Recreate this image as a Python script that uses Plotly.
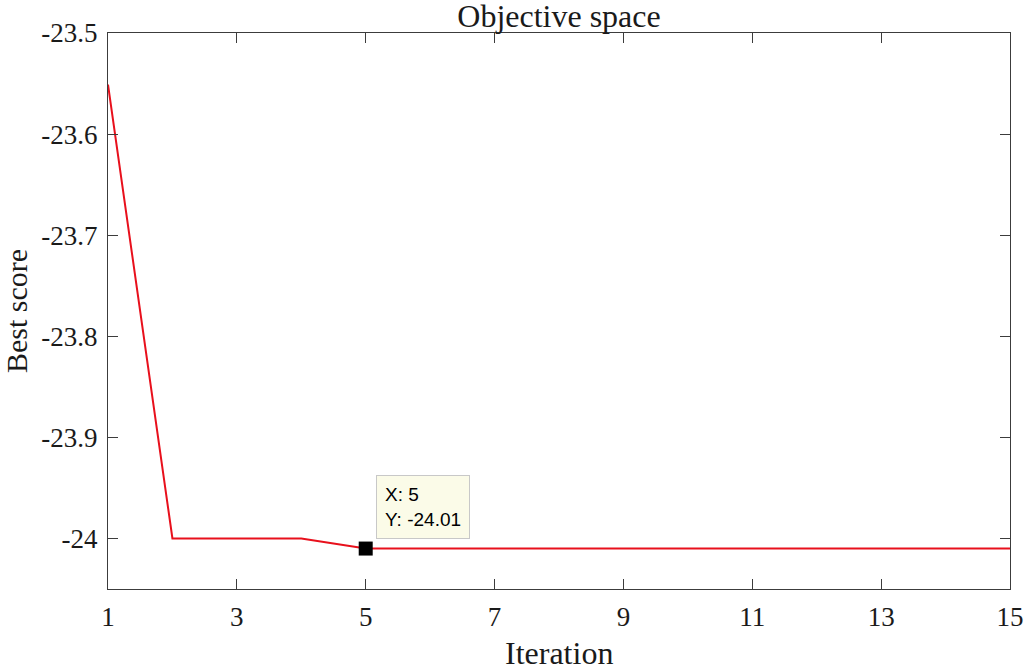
import plotly.graph_objects as go

# best score per iteration
iterations = list(range(1, 16))
best_score = [-23.551, -24.0, -24.0, -24.0, -24.01, -24.01, -24.01, -24.01,
              -24.01, -24.01, -24.01, -24.01, -24.01, -24.01, -24.01]

x_ticks = [1, 3, 5, 7, 9, 11, 13, 15]
y_ticks = [-24.0, -23.9, -23.8, -23.7, -23.6, -23.5]
y_labels = ['-24', '-23.9', '-23.8', '-23.7', '-23.6', '-23.5']

tip_x = 5
tip_y = -24.01

serif = 'Liberation Serif, Times New Roman, serif'
axis_col = '#3c3c3c'
text_col = '#1a1a1a'

fig = go.Figure()
fig.add_trace(go.Scatter(x=iterations, y=best_score, mode='lines',
                         line=dict(color='#e8101c', width=2), showlegend=False))
fig.add_trace(go.Scatter(x=[tip_x], y=[tip_y], mode='markers',
                         marker=dict(color='black', symbol='square', size=14),
                         showlegend=False))

# datatip box like matlab
fig.add_annotation(x=tip_x, y=tip_y, text='X: 5<br>Y: -24.01',
                   showarrow=False, xanchor='left', yanchor='bottom',
                   xshift=10, yshift=10, align='left',
                   font=dict(family='Liberation Sans, Arial', size=19, color='black'),
                   bgcolor='#fbfbe8', bordercolor='#c8c8c8', borderwidth=1, borderpad=8)

# x axis title as an annotation so it can sit right at the bottom edge
fig.add_annotation(x=0.5, y=0, xref='paper', yref='paper', text='Iteration',
                   showarrow=False, xanchor='center', yanchor='top', yshift=-44,
                   font=dict(family=serif, size=32, color=text_col))

axis_common = dict(showline=True, linecolor=axis_col, linewidth=1, mirror='ticks',
                   ticks='inside', ticklen=10, tickcolor=axis_col, showgrid=False,
                   zeroline=False, automargin=False,
                   tickfont=dict(family=serif, size=27, color=text_col))

fig.update_xaxes(range=[1, 15], tickvals=x_ticks, ticklabelstandoff=4, **axis_common)
fig.update_yaxes(range=[-24.05, -23.5], tickvals=y_ticks, ticktext=y_labels,
                 ticklabelstandoff=4,
                 title=dict(text='Best score', font=dict(family=serif, size=30, color=text_col),
                            standoff=16),
                 **axis_common)

fig.update_layout(
    width=1025, height=666,
    title=dict(text='Objective space', x=0.5, xref='paper', xanchor='center',
               yref='container', y=0.9925, yanchor='top',
               font=dict(family=serif, size=32, color=text_col)),
    margin=dict(l=108, r=15, t=33, b=77),
    plot_bgcolor='white', paper_bgcolor='white',
)

# drop the default 8px body margin so the figure fills the window
fig.write_html("out.html", config={'displayModeBar': False},
               post_script="document.body.style.margin='0';")
